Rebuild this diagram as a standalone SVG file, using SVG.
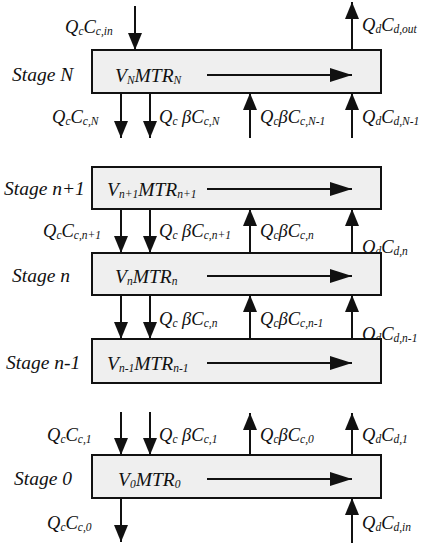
<svg xmlns="http://www.w3.org/2000/svg" width="423" height="550" viewBox="0 0 423 550" font-family="'Liberation Serif', 'Times New Roman', serif" font-style="italic">
<defs>
<style>
text{font-family:"Liberation Serif","Times New Roman",serif;font-style:italic;fill:#111}
.q{font-size:18.5px}
.st{font-size:19.5px}
.v{font-size:19.5px}
.s{font-size:11.5px}
.box{fill:#efefef;stroke:#111;stroke-width:2}
.c{stroke:#111;stroke-width:2;fill:none}
</style>
<marker id="ah" markerUnits="userSpaceOnUse" markerWidth="18" markerHeight="14" refX="17" refY="7" orient="auto"><path d="M0,0 L17,7 L0,14 z" fill="#111"/></marker>
<marker id="ahb" markerUnits="userSpaceOnUse" markerWidth="23" markerHeight="14" refX="22" refY="7" orient="auto"><path d="M0,0 L22,7 L0,14 z" fill="#111"/></marker>
</defs>
<g id="labels">
<text class="q" x="65" y="33">Q<tspan class="s" dy="2">c</tspan><tspan dy="-2">C</tspan><tspan class="s" dy="2">c,in</tspan></text>
<text class="q" x="362" y="31">Q<tspan class="s" dy="2">d</tspan><tspan dy="-2">C</tspan><tspan class="s" dy="2">d,out</tspan></text>
<text class="q" x="52" y="123">Q<tspan class="s" dy="2">c</tspan><tspan dy="-2">C</tspan><tspan class="s" dy="2">c,N</tspan></text>
<text class="q" x="159" y="123">Q<tspan class="s" dy="2">c</tspan><tspan dy="-2"> βC</tspan><tspan class="s" dy="2">c,N</tspan></text>
<text class="q" x="260" y="123">Q<tspan class="s" dy="2">c</tspan><tspan dy="-2">βC</tspan><tspan class="s" dy="2">c,N-1</tspan></text>
<text class="q" x="362" y="123">Q<tspan class="s" dy="2">d</tspan><tspan dy="-2">C</tspan><tspan class="s" dy="2">d,N-1</tspan></text>
<text class="q" x="43" y="237">Q<tspan class="s" dy="2">c</tspan><tspan dy="-2">C</tspan><tspan class="s" dy="2">c,n+1</tspan></text>
<text class="q" x="159" y="237">Q<tspan class="s" dy="2">c</tspan><tspan dy="-2"> βC</tspan><tspan class="s" dy="2">c,n+1</tspan></text>
<text class="q" x="260" y="237">Q<tspan class="s" dy="2">c</tspan><tspan dy="-2">βC</tspan><tspan class="s" dy="2">c,n</tspan></text>
<text class="q" x="362" y="253">Q<tspan class="s" dy="2">d</tspan><tspan dy="-2">C</tspan><tspan class="s" dy="2">d,n</tspan></text>
<text class="q" x="159" y="325">Q<tspan class="s" dy="2">c</tspan><tspan dy="-2"> βC</tspan><tspan class="s" dy="2">c,n</tspan></text>
<text class="q" x="260" y="325">Q<tspan class="s" dy="2">c</tspan><tspan dy="-2">βC</tspan><tspan class="s" dy="2">c,n-1</tspan></text>
<text class="q" x="362" y="340">Q<tspan class="s" dy="2">d</tspan><tspan dy="-2">C</tspan><tspan class="s" dy="2">d,n-1</tspan></text>
<text class="q" x="47" y="441">Q<tspan class="s" dy="2">c</tspan><tspan dy="-2">C</tspan><tspan class="s" dy="2">c,1</tspan></text>
<text class="q" x="159" y="441">Q<tspan class="s" dy="2">c</tspan><tspan dy="-2"> βC</tspan><tspan class="s" dy="2">c,1</tspan></text>
<text class="q" x="260" y="441">Q<tspan class="s" dy="2">c</tspan><tspan dy="-2">βC</tspan><tspan class="s" dy="2">c,0</tspan></text>
<text class="q" x="362" y="441">Q<tspan class="s" dy="2">d</tspan><tspan dy="-2">C</tspan><tspan class="s" dy="2">d,1</tspan></text>
<text class="q" x="47" y="529">Q<tspan class="s" dy="2">c</tspan><tspan dy="-2">C</tspan><tspan class="s" dy="2">c,0</tspan></text>
<text class="q" x="362" y="529">Q<tspan class="s" dy="2">d</tspan><tspan dy="-2">C</tspan><tspan class="s" dy="2">d,in</tspan></text>
</g>
<g id="stageN">
<rect class="box" x="92" y="50" width="289" height="43"/>
<text class="st" x="12" y="81">Stage N</text>
<text class="v" x="115" y="82">V<tspan class="s" dy="2">N</tspan><tspan dy="-2">MTR</tspan><tspan class="s" dy="2">N</tspan></text>
</g>
<g id="stageN1">
<rect class="box" x="92" y="167" width="289" height="42"/>
<text class="st" x="4" y="195">Stage n+1</text>
<text class="v" x="107" y="196">V<tspan class="s" dy="2">n+1</tspan><tspan dy="-2">MTR</tspan><tspan class="s" dy="2">n+1</tspan></text>
</g>
<g id="stagen">
<rect class="box" x="92" y="253" width="289" height="42"/>
<text class="st" x="12" y="282">Stage n</text>
<text class="v" x="115" y="283">V<tspan class="s" dy="2">n</tspan><tspan dy="-2">MTR</tspan><tspan class="s" dy="2">n</tspan></text>
</g>
<g id="stagenm1">
<rect class="box" x="92" y="339" width="289" height="44"/>
<text class="st" x="6" y="369">Stage n-1</text>
<text class="v" x="107" y="370">V<tspan class="s" dy="2">n-1</tspan><tspan dy="-2">MTR</tspan><tspan class="s" dy="2">n-1</tspan></text>
</g>
<g id="stage0">
<rect class="box" x="92" y="455" width="289" height="43"/>
<text class="st" x="14" y="485">Stage 0</text>
<text class="v" x="118" y="486">V<tspan class="s" dy="2">0</tspan><tspan dy="-2">MTR</tspan><tspan class="s" dy="2">0</tspan></text>
</g>
<g id="connectors">
<line class="c" x1="207" y1="75" x2="352" y2="75" marker-end="url(#ahb)"/>
<line class="c" x1="207" y1="189" x2="352" y2="189" marker-end="url(#ahb)"/>
<line class="c" x1="207" y1="276" x2="352" y2="276" marker-end="url(#ahb)"/>
<line class="c" x1="207" y1="363" x2="352" y2="363" marker-end="url(#ahb)"/>
<line class="c" x1="207" y1="479" x2="352" y2="479" marker-end="url(#ahb)"/>
<line class="c" x1="135" y1="6" x2="135" y2="50" marker-end="url(#ah)"/>
<line class="c" x1="352" y1="50" x2="352" y2="2" marker-end="url(#ah)"/>
<line class="c" x1="121" y1="93" x2="121" y2="138" marker-end="url(#ah)"/>
<line class="c" x1="150" y1="93" x2="150" y2="138" marker-end="url(#ah)"/>
<line class="c" x1="250" y1="138" x2="250" y2="93" marker-end="url(#ah)"/>
<line class="c" x1="352" y1="138" x2="352" y2="93" marker-end="url(#ah)"/>
<line class="c" x1="121" y1="209" x2="121" y2="253" marker-end="url(#ah)"/>
<line class="c" x1="150" y1="209" x2="150" y2="253" marker-end="url(#ah)"/>
<line class="c" x1="250" y1="253" x2="250" y2="209" marker-end="url(#ah)"/>
<line class="c" x1="352" y1="253" x2="352" y2="209" marker-end="url(#ah)"/>
<line class="c" x1="121" y1="295" x2="121" y2="339" marker-end="url(#ah)"/>
<line class="c" x1="150" y1="295" x2="150" y2="339" marker-end="url(#ah)"/>
<line class="c" x1="250" y1="339" x2="250" y2="295" marker-end="url(#ah)"/>
<line class="c" x1="352" y1="339" x2="352" y2="295" marker-end="url(#ah)"/>
<line class="c" x1="121" y1="412" x2="121" y2="455" marker-end="url(#ah)"/>
<line class="c" x1="150" y1="412" x2="150" y2="455" marker-end="url(#ah)"/>
<line class="c" x1="250" y1="455" x2="250" y2="413" marker-end="url(#ah)"/>
<line class="c" x1="352" y1="455" x2="352" y2="413" marker-end="url(#ah)"/>
<line class="c" x1="121" y1="498" x2="121" y2="542" marker-end="url(#ah)"/>
<line class="c" x1="352" y1="543" x2="352" y2="498" marker-end="url(#ah)"/>
</g>
</svg>
